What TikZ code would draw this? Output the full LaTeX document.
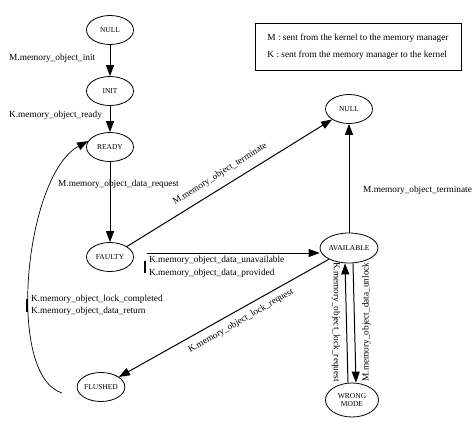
\documentclass[tikz,border=0pt]{standalone}
\usepackage{fontspec}
\setmainfont{Liberation Serif}
\usetikzlibrary{shapes.geometric,arrows.meta,calc}
\begin{document}
\begin{tikzpicture}[x=1pt,y=-1pt,
 st/.style={ellipse,draw,line width=0.8pt,minimum width=47pt,minimum height=29pt,inner sep=0pt,font=\fontsize{7.5}{8.5}\selectfont,align=center},
 arr/.style={line width=1pt,-{Triangle[length=11pt,width=8pt]}},
 lbl/.style={font=\fontsize{9.3}{12.5}\selectfont,inner sep=0pt},
 bar/.style={line width=1.2pt}]
\useasboundingbox (0,0) rectangle (474,424);
% states
\node[st] (null1) at (110,30) {NULL};
\node[st] (init) at (110,91) {INIT};
\node[st] (ready) at (110,147) {READY};
\node[st] (faulty) at (110,257) {FAULTY};
\node[st] (flushed) at (101,387) {FLUSHED};
\node[st,minimum width=57pt,minimum height=30pt] (avail) at (349,248) {AVAILABLE};
\node[st,minimum width=53pt,minimum height=34pt] (wrong) at (352,400) {WRONG\\MODE};
\node[st] (null2) at (349,109) {NULL};
% legend
\node[draw,line width=0.8pt,minimum width=206pt,minimum height=47pt,font=\fontsize{9.3}{17}\selectfont,align=left] (legend) at (358,46.5) {M : sent from the kernel to the memory manager\\K : sent from the memory manager to the kernel};
% edges
\draw[arr] (null1) -- (init);
\draw[arr] (init) -- (ready);
\draw[arr] (ready) -- (faulty);
\draw[arr] (faulty) -- (null2);
\draw[arr] (avail) -- (null2);
\coordinate (fa) at (147,253);
\draw[arr] (fa) -- (fa -| avail.west);
\draw[arr] (avail) -- (flushed);
\draw[arr] ([xshift=-4pt]wrong.north) -- ([xshift=-4pt]avail.south);
\draw[arr] ([xshift=4pt]avail.south) -- ([xshift=4pt]wrong.north);
\coordinate (fr) at (62,393);
\draw[line width=0.7pt,-{Triangle[length=11pt,width=8pt]}] (fr) .. controls (5,375) and (25,175) .. (ready.165);
% labels
\node[lbl,anchor=west] (l1) at (9,58) {M.memory\_object\_init};
\node[lbl,anchor=west] (l2) at (9,115) {K.memory\_object\_ready};
\node[lbl,anchor=west] (l3) at (58,184) {M.memory\_object\_data\_request};
\node[lbl,rotate=32] (l4) at (220,174) {M.memory\_object\_terminate};
\node[lbl,anchor=west] (l5) at (363,190) {M.memory\_object\_terminate};
\node[lbl,anchor=west,align=left] (l6) at (149,267) {K.memory\_object\_data\_unavailable\\K.memory\_object\_data\_provided};
\draw[bar] ($(l6.west)+(-4,-6)$) -- ($(l6.west)+(-4,6)$);
\node[lbl,anchor=west,align=left] (l7) at (31,305.5) {K.memory\_object\_lock\_completed\\K.memory\_object\_data\_return};
\draw[bar] ($(l7.west)+(-4,-6.5)$) -- ($(l7.west)+(-4,6.5)$);
\node[lbl,rotate=30] (l8) at (241,321) {K.memory\_object\_lock\_request};
\node[lbl,rotate=-90] (l9) at (336,322) {K.memory\_object\_lock\_request};
\node[lbl,rotate=90] (l10) at (366.5,322) {M.memory\_object\_data\_unlock};
\end{tikzpicture}
\end{document}
